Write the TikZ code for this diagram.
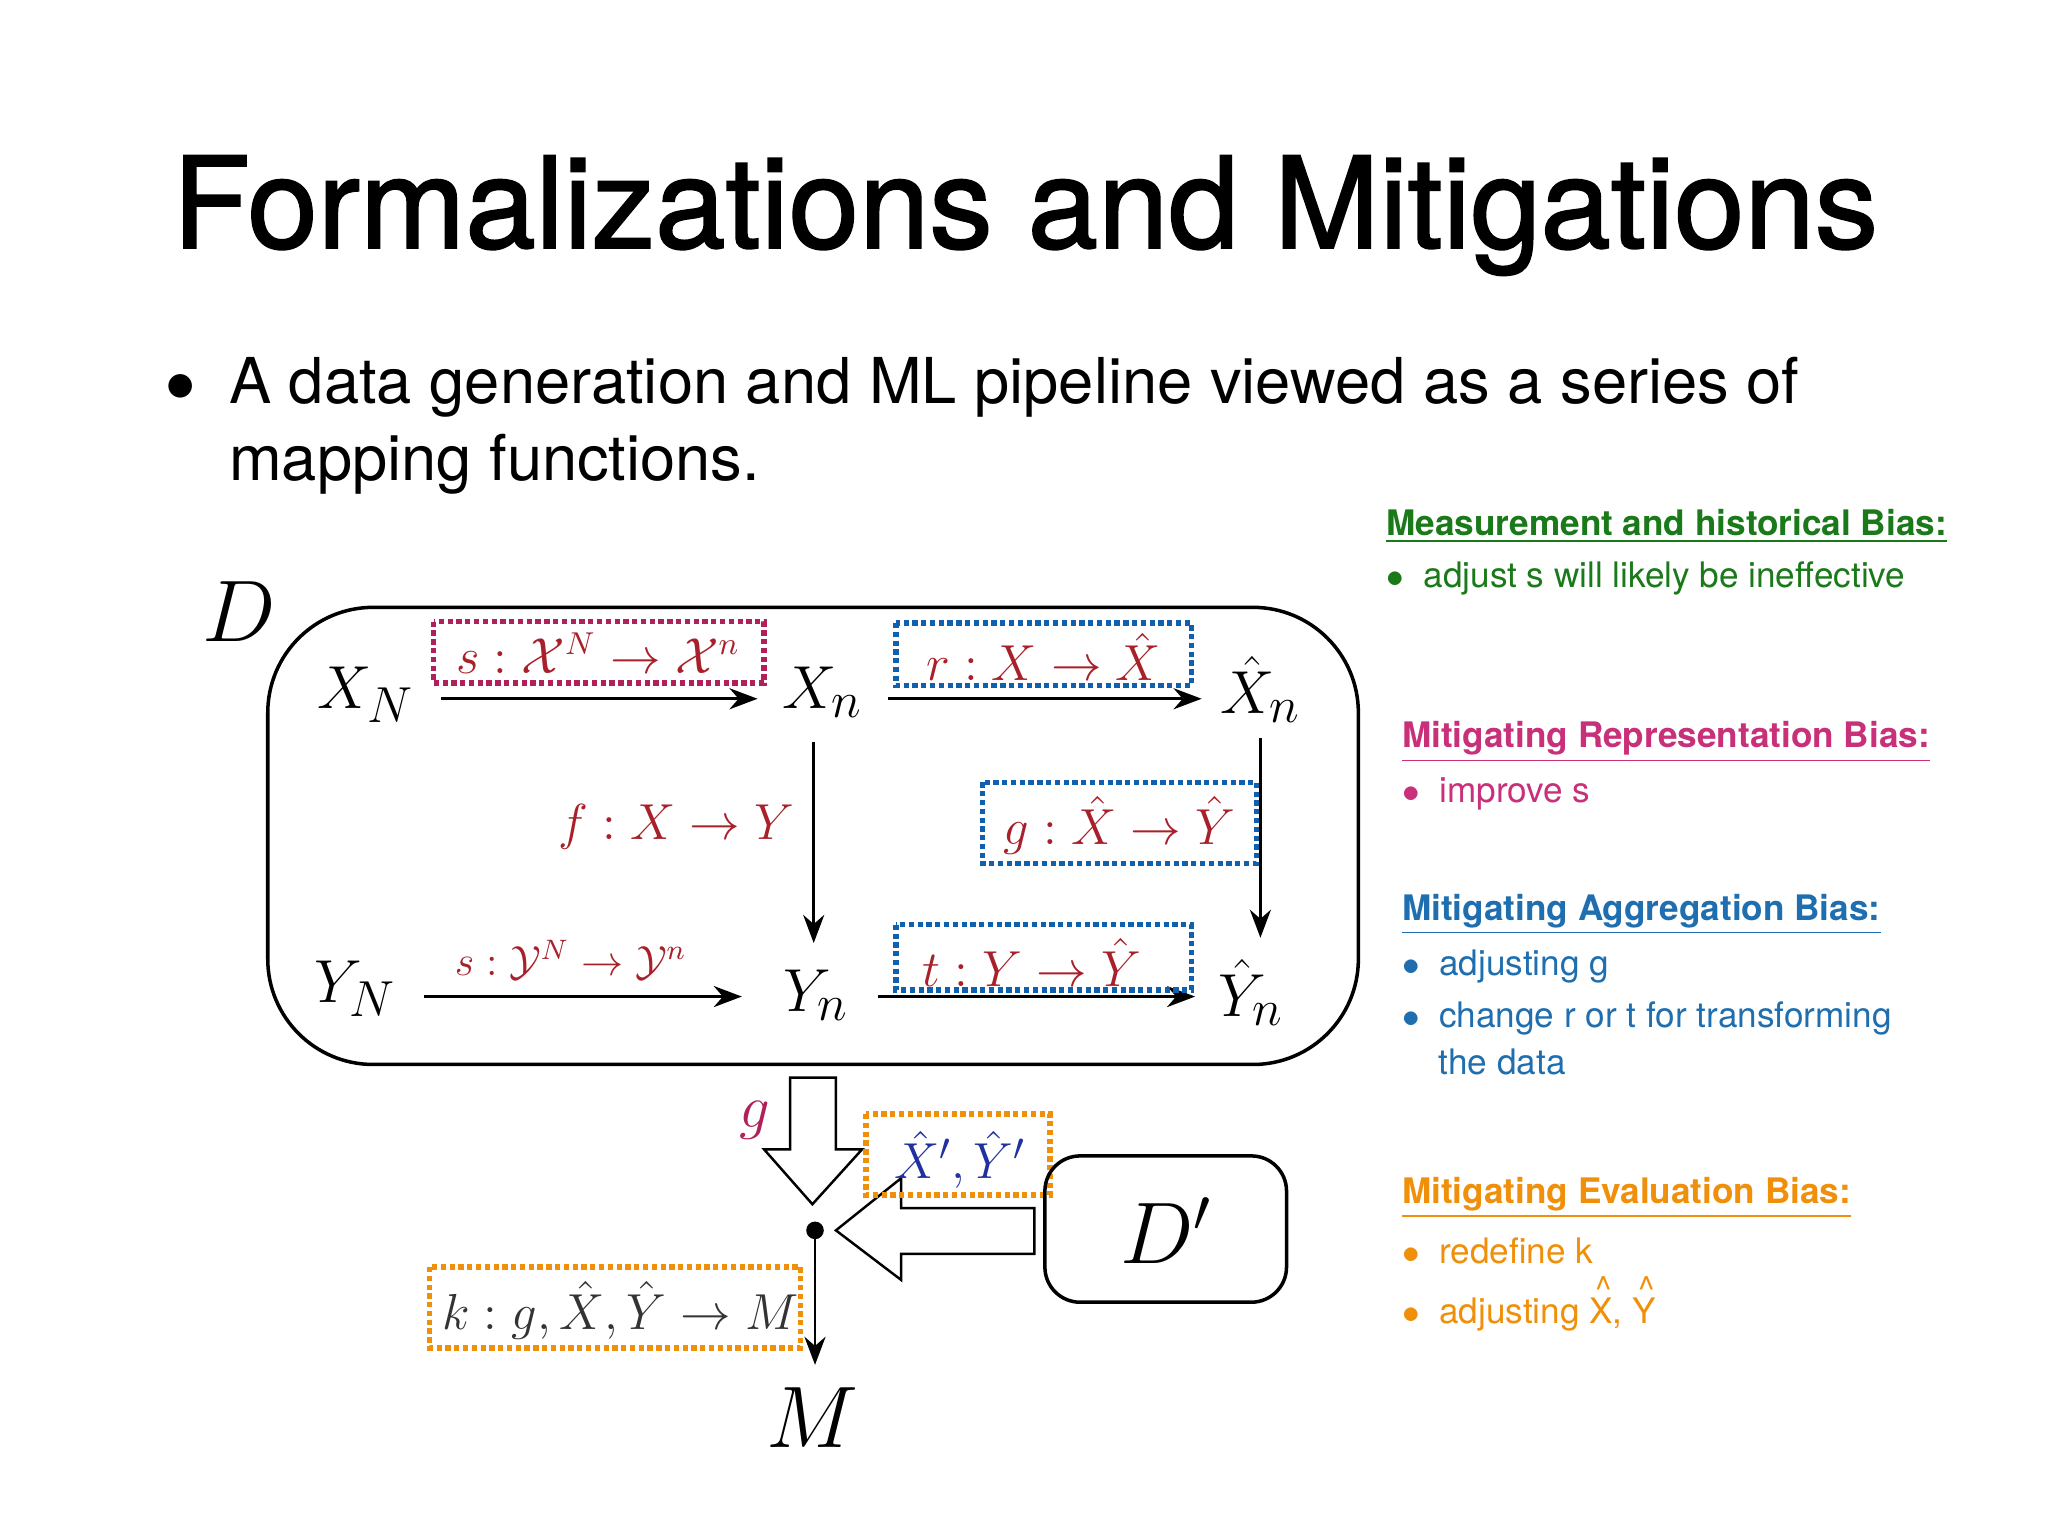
\documentclass[tikz,border=0pt]{standalone}
\usepackage{fontspec}
\setmainfont{TeX Gyre Heros}
\usetikzlibrary{arrows.meta,shapes.arrows}
\definecolor{dred}{HTML}{A8202A}
\definecolor{mgreen}{HTML}{1A7A1A}
\definecolor{mmag}{HTML}{C8307A}
\definecolor{mblue}{HTML}{1F6FB0}
\definecolor{morange}{HTML}{F0900A}
\definecolor{bmag}{HTML}{B0205A}
\definecolor{bblue}{HTML}{1060B0}
\definecolor{xblue}{HTML}{2030A0}
\tikzset{
  big/.style={font=\fontsize{19}{21}\selectfont},
  lab/.style={font=\fontsize{13.5}{15}\selectfont, text=dred, inner sep=1pt},
  dbox/.style={draw, densely dotted, line width=1.5pt},
  arr/.style={-{Stealth[length=8pt]}, line width=0.8pt},
  head/.style={anchor=west, font=\fontsize{10}{12}\selectfont\bfseries},
  item/.style={anchor=west, font=\fontsize{10}{12}\selectfont},
}
\begin{document}
\begin{tikzpicture}[x=0.01306cm,y=-0.01306cm]
\useasboundingbox[fill=white] (0,0) rectangle (1568,1176);
\node[font=\fontsize{36}{40}\selectfont] (title) at (785,165) {\addfontfeature{FakeBold=1.5}Formalizations and Mitigations};
\node[font=\fontsize{18}{20}\selectfont, anchor=west] (b1) at (117,297) {$\bullet$};
\node[font=\fontsize{18}{22}\selectfont, anchor=west, align=left] (t1) at (166,326) {A data generation and ML pipeline viewed as a series of\\mapping functions.};
% diagram
\node[font=\fontsize{24}{26}\selectfont] (D) at (183,468) {$D$};
\draw[line width=1pt, rounded corners=30pt] (205,465) rectangle (1040,815);
\node[big] (XN) at (280,532) {$X_N$};
\node[big] (Xn) at (630,530) {$X_n$};
\node[big] (hXn) at (965,528) {$\hat X_n$};
\node[big] (YN) at (272,757) {$Y_N$};
\node[big] (Yn) at (625,762) {$Y_n$};
\node[big] (hYn) at (958,760) {$\hat Y_n$};
\draw[arr] (338,535) -- (580,535);
\draw[arr] (680,535) -- (920,535);
\draw[arr] (325,763) -- (568,763);
\draw[arr] (672,763) -- (915,763);
\draw[arr] (623,568) -- (623,722);
\draw[arr] (965,565) -- (965,718);
\draw[dbox, bmag] (332,476) rectangle (585,523);
\node[lab] (ls) at (458,500) {$s:\mathcal{X}^N\rightarrow\mathcal{X}^n$};
\draw[dbox, bblue] (686,477) rectangle (912,525);
\node[lab] (lr) at (799,503) {$r:X\rightarrow\hat X$};
\node[lab] (lf) at (518,633) {$f:X\rightarrow Y$};
\draw[dbox, bblue] (752,599) rectangle (962,661);
\node[lab] (lg) at (857,632) {$g:\hat X\rightarrow\hat Y$};
\node[lab, font=\fontsize{12}{14}\selectfont] (ls2) at (437,735) {$s:\mathcal{Y}^N\rightarrow\mathcal{Y}^n$};
\draw[dbox, bblue] (686,708) rectangle (912,758);
\node[lab] (lt) at (790,737) {$t:Y\rightarrow\hat Y$};
% lower
\draw[line width=0.7pt, fill=white] (605,825) -- (640,825) -- (640,880) -- (660,880) -- (622,922) -- (585,880) -- (605,880) -- cycle;
\node[lab, text=bmag, font=\fontsize{16}{18}\selectfont] (gg) at (578,858) {$g$};
\draw[line width=0.7pt, fill=white] (792,925) -- (690,925) -- (690,902) -- (640,942) -- (690,980) -- (690,960) -- (792,960) -- cycle;
\coordinate (dot) at (624,942);
\fill (dot) circle (2.5pt);
\node[font=\fontsize{24}{26}\selectfont] (M) at (622,1085) {$M$};
\draw[arr] (dot) -- (624,1045);
\draw[dbox, morange] (663,853) rectangle (804,915);
\node[lab, text=xblue, font=\fontsize{15}{17}\selectfont] (xy) at (735,888) {$\hat X',\hat Y'$};
\draw[line width=1pt, rounded corners=10pt] (800,885) rectangle (985,997);
\node[font=\fontsize{26}{28}\selectfont] (Dp) at (893,942) {$D'$};
\draw[dbox, morange] (329,970) rectangle (613,1032);
\node[lab, text=black!80] (lk) at (475,1003) {$k:g,\hat X,\hat Y\rightarrow M$};
% right texts
\node[head, text=mgreen] (h1) at (1052,403) {\underline{Measurement and historical Bias:}};
\node[item, text=mgreen] (i1) at (1052,443) {$\bullet$\ \ adjust s will likely be ineffective};
\node[head, text=mmag] (h2) at (1064,568) {\underline{Mitigating Representation Bias:}};
\node[item, text=mmag] (i2) at (1064,608) {$\bullet$\ \ improve s};
\node[head, text=mblue] (h3) at (1064,700) {\underline{Mitigating Aggregation Bias:}};
\node[item, text=mblue] (i3) at (1064,740) {$\bullet$\ \ adjusting g};
\node[item, text=mblue] (i4) at (1064,780) {$\bullet$\ \ change r or t for transforming};
\node[item, text=mblue] (i5) at (1092,813) {the data};
\node[head, text=morange] (h4) at (1064,917) {\underline{Mitigating Evaluation Bias:}};
\node[item, text=morange] (i6) at (1064,958) {$\bullet$\ \ redefine k};
\node[item, text=morange] (i7) at (1064,998) {$\bullet$\ \ adjusting \makebox[0pt][l]{\raisebox{1.2ex}{\,\^{}}}X, \makebox[0pt][l]{\raisebox{1.2ex}{\,\^{}}}Y};
\end{tikzpicture}
\end{document}
